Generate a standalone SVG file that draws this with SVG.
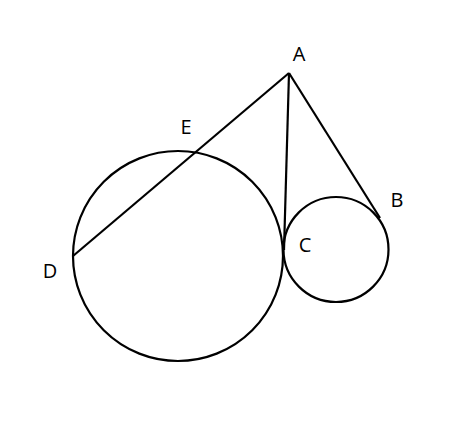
<svg xmlns="http://www.w3.org/2000/svg" width="474" height="421" viewBox="0 0 474 421">
<style>
.s{fill:none;stroke:#000;stroke-width:2.2}
.t{font-family:"Open Sans","Noto Sans",sans-serif;font-size:20px;fill:#000}
</style>
<rect width="474" height="421" fill="#fff"/>
<g id="circle-big"><circle class="s" cx="178" cy="256" r="105"/></g>
<g id="circle-small"><circle class="s" cx="336" cy="249.5" r="52.5"/></g>
<g id="connectors">
<line class="s" x1="289" y1="73" x2="73" y2="256"/>
<line class="s" x1="289" y1="73" x2="284" y2="250"/>
<line class="s" x1="289" y1="73" x2="380" y2="218"/>
</g>
<g id="labels">
<text class="t" x="299" y="61" text-anchor="middle">A</text>
<text class="t" x="186" y="134" text-anchor="middle">E</text>
<text class="t" x="397" y="207" text-anchor="middle">B</text>
<text class="t" x="305" y="252" text-anchor="middle">C</text>
<text class="t" x="50" y="278" text-anchor="middle">D</text>
</g>
</svg>
